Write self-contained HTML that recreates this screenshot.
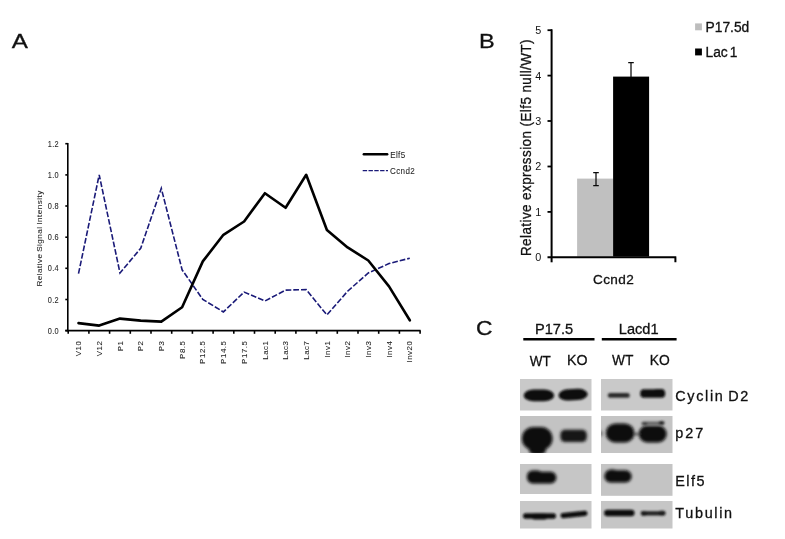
<!DOCTYPE html>
<html><head><meta charset="utf-8"><title>Figure</title>
<style>
html,body{margin:0;padding:0;background:#fff;}
body{width:785px;height:539px;overflow:hidden;}
svg{display:block;font-family:"Liberation Sans",sans-serif;}
.t{fill:#262626;font-size:7.9px;letter-spacing:0.55px;stroke:#262626;stroke-width:0.08px;}
.k{stroke:#111;stroke-width:0.3px;}
</style></head><body>
<svg width="785" height="539" viewBox="0 0 785 539">
<defs>
<filter id="b1" filterUnits="userSpaceOnUse" x="500" y="360" width="200" height="179"><feGaussianBlur stdDeviation="1.1"/></filter>
<filter id="b2" filterUnits="userSpaceOnUse" x="500" y="360" width="200" height="179"><feGaussianBlur stdDeviation="1.8"/></filter>
<filter id="b0" filterUnits="userSpaceOnUse" x="500" y="360" width="200" height="179"><feGaussianBlur stdDeviation="0.8"/></filter>
<clipPath id="c1l"><rect x="520" y="379" width="71.5" height="31.5"/></clipPath>
<clipPath id="c2l"><rect x="520" y="416" width="71.5" height="37"/></clipPath>
<clipPath id="c3l"><rect x="520" y="464" width="71.5" height="30"/></clipPath>
<clipPath id="c4l"><rect x="520" y="501" width="71.5" height="27.5"/></clipPath>
<clipPath id="c1r"><rect x="601" y="379" width="71.5" height="31.5"/></clipPath>
<clipPath id="c2r"><rect x="601" y="416" width="71.5" height="37"/></clipPath>
<clipPath id="c3r"><rect x="601" y="464" width="71.5" height="31.8"/></clipPath>
<clipPath id="c4r"><rect x="601" y="501" width="71.5" height="27.5"/></clipPath>
</defs>
<rect width="785" height="539" fill="#fff"/>

<text class="k" font-size="20.2" fill="#111" transform="translate(11.8 47.5) scale(1.2 1)">A</text>
<g stroke="#000" stroke-width="1.6" fill="none">
<path d="M67.8 143 V331.3"/>
<path d="M65.3 330.6 H420.6"/>
<path d="M65.3 330.6 H68"/>
<path d="M65.3 299.5 H68"/>
<path d="M65.3 268.3 H68"/>
<path d="M65.3 237.2 H68"/>
<path d="M65.3 206.0 H68"/>
<path d="M65.3 174.9 H68"/>
<path d="M65.3 143.7 H68"/>
<path d="M68.2 330.6 V333.8"/>
<path d="M88.9 330.6 V333.8"/>
<path d="M109.6 330.6 V333.8"/>
<path d="M130.3 330.6 V333.8"/>
<path d="M151.0 330.6 V333.8"/>
<path d="M171.7 330.6 V333.8"/>
<path d="M192.4 330.6 V333.8"/>
<path d="M213.1 330.6 V333.8"/>
<path d="M233.8 330.6 V333.8"/>
<path d="M254.5 330.6 V333.8"/>
<path d="M275.2 330.6 V333.8"/>
<path d="M295.9 330.6 V333.8"/>
<path d="M316.6 330.6 V333.8"/>
<path d="M337.3 330.6 V333.8"/>
<path d="M358.0 330.6 V333.8"/>
<path d="M378.7 330.6 V333.8"/>
<path d="M399.4 330.6 V333.8"/>
<path d="M420.1 330.6 V333.8"/>
</g>
<text class="t" style="font-size:9px;letter-spacing:0.35px" transform="translate(58.9 333.7) scale(0.82 1)" text-anchor="end">0.0</text>
<text class="t" style="font-size:9px;letter-spacing:0.35px" transform="translate(58.9 302.6) scale(0.82 1)" text-anchor="end">0.2</text>
<text class="t" style="font-size:9px;letter-spacing:0.35px" transform="translate(58.9 271.4) scale(0.82 1)" text-anchor="end">0.4</text>
<text class="t" style="font-size:9px;letter-spacing:0.35px" transform="translate(58.9 240.3) scale(0.82 1)" text-anchor="end">0.6</text>
<text class="t" style="font-size:9px;letter-spacing:0.35px" transform="translate(58.9 209.1) scale(0.82 1)" text-anchor="end">0.8</text>
<text class="t" style="font-size:9px;letter-spacing:0.35px" transform="translate(58.9 178.0) scale(0.82 1)" text-anchor="end">1.0</text>
<text class="t" style="font-size:9px;letter-spacing:0.35px" transform="translate(58.9 146.8) scale(0.82 1)" text-anchor="end">1.2</text>
<text class="t" text-anchor="end" transform="translate(81.1 340.5) rotate(-90)">V10</text>
<text class="t" text-anchor="end" transform="translate(101.8 340.5) rotate(-90)">V12</text>
<text class="t" text-anchor="end" transform="translate(122.5 340.5) rotate(-90)">P1</text>
<text class="t" text-anchor="end" transform="translate(143.2 340.5) rotate(-90)">P2</text>
<text class="t" text-anchor="end" transform="translate(163.9 340.5) rotate(-90)">P3</text>
<text class="t" text-anchor="end" transform="translate(184.7 340.5) rotate(-90)">P8.5</text>
<text class="t" text-anchor="end" transform="translate(205.3 340.5) rotate(-90)">P12.5</text>
<text class="t" text-anchor="end" transform="translate(226.0 340.5) rotate(-90)">P14.5</text>
<text class="t" text-anchor="end" transform="translate(246.7 340.5) rotate(-90)">P17.5</text>
<text class="t" text-anchor="end" transform="translate(267.5 340.5) rotate(-90)">Lac1</text>
<text class="t" text-anchor="end" transform="translate(288.2 340.5) rotate(-90)">Lac3</text>
<text class="t" text-anchor="end" transform="translate(308.9 340.5) rotate(-90)">Lac7</text>
<text class="t" text-anchor="end" transform="translate(329.6 340.5) rotate(-90)">Inv1</text>
<text class="t" text-anchor="end" transform="translate(350.2 340.5) rotate(-90)">Inv2</text>
<text class="t" text-anchor="end" transform="translate(370.9 340.5) rotate(-90)">Inv3</text>
<text class="t" text-anchor="end" transform="translate(391.6 340.5) rotate(-90)">Inv4</text>
<text class="t" text-anchor="end" transform="translate(412.4 340.5) rotate(-90)">Inv20</text>
<text class="t" style="font-size:8.1px;letter-spacing:0" textLength="95.8" lengthAdjust="spacing" word-spacing="-1" transform="translate(41.6 286.6) rotate(-90)">Relative Signal Intensity</text>
<polyline points="78.5,273.7 99.2,174.8 120.0,273.0 140.7,248.3 161.3,188.4 182.1,269.8 202.8,299.4 223.4,311.9 244.1,292.1 264.9,301.0 285.6,290.1 306.2,289.6 326.9,315.0 347.6,291.2 368.3,273.0 389.0,263.6 409.8,258.2" fill="none" stroke="#1a1a78" stroke-width="1.6" stroke-dasharray="5.7 2" stroke-linejoin="miter"/>
<polyline points="78.5,323.1 99.2,325.6 120.0,318.6 140.7,320.6 161.3,321.6 182.1,307.2 202.8,261.4 223.4,234.8 244.1,221.5 264.9,193.2 285.6,207.8 306.2,174.8 326.9,230.0 347.6,247.4 368.3,260.5 389.0,286.4 409.8,320.3" fill="none" stroke="#000" stroke-width="2.6" stroke-linejoin="round" stroke-linecap="round"/>
<path d="M363.8 154.2 H387.2" stroke="#000" stroke-width="2.4" stroke-linecap="round"/>
<text class="t" style="font-size:9.6px;letter-spacing:0.45px" transform="translate(390.2 158.1) scale(0.84 1)">Elf5</text>
<path d="M362.7 170.7 H388" stroke="#1a1a78" stroke-width="1.3" stroke-dasharray="4.4 1.4"/>
<text class="t" style="font-size:9.6px;letter-spacing:0.45px" transform="translate(390 174.3) scale(0.84 1)">Ccnd2</text>
<text class="k" font-size="20.4" fill="#111" transform="translate(479 47.8) scale(1.15 1)">B</text>
<rect x="577.1" y="178.6" width="36" height="78" fill="#c0c0c0"/>
<rect x="613.1" y="76.6" width="36" height="180" fill="#000"/>
<g stroke="#000" stroke-width="1.8" fill="none">
<path d="M551.6 29.3 V262.3" stroke-width="2"/>
<path d="M547.5 257.3 H676.3 M675.4 257.3 V262.3" stroke-width="2"/>
<path d="M547.5 211.9 H552" stroke-width="1.8"/>
<path d="M547.5 166.5 H552" stroke-width="1.8"/>
<path d="M547.5 121.0 H552" stroke-width="1.8"/>
<path d="M547.5 75.6 H552" stroke-width="1.8"/>
<path d="M547.5 30.2 H552" stroke-width="1.8"/>
</g>
<g stroke="#0a0a0a" stroke-width="1.25" fill="none">
<path d="M596 172.7 V185.6 M593.2 172.7 H598.8 M593.2 185.6 H598.8"/>
<path d="M631 62.7 V77 M628.2 62.7 H633.8"/>
</g>
<text x="541.2" y="261.2" text-anchor="end" font-size="10.8" fill="#111">0</text>
<text x="541.2" y="215.8" text-anchor="end" font-size="10.8" fill="#111">1</text>
<text x="541.2" y="170.4" text-anchor="end" font-size="10.8" fill="#111">2</text>
<text x="541.2" y="124.9" text-anchor="end" font-size="10.8" fill="#111">3</text>
<text x="541.2" y="79.5" text-anchor="end" font-size="10.8" fill="#111">4</text>
<text x="541.2" y="34.1" text-anchor="end" font-size="10.8" fill="#111">5</text>
<text class="k" x="593" y="283.6" font-size="13.6" fill="#111" textLength="40.8" lengthAdjust="spacing">Ccnd2</text>
<text class="k" font-size="14.3" fill="#111" textLength="230.3" lengthAdjust="spacing" transform="translate(531.2 256) rotate(-90) scale(0.94 1)">Relative expression (Elf5 null/WT)</text>
<rect x="695.1" y="23.4" width="6.8" height="6.9" fill="#bdbdbd"/>
<text class="k" x="705.5" y="31.7" font-size="13.8" fill="#111">P17.5d</text>
<rect x="695.1" y="48.5" width="6.8" height="6.9" fill="#000"/>
<text class="k" x="705.5" y="57.1" font-size="13.8" fill="#111" word-spacing="-1.8">Lac 1</text>
<text class="k" font-size="19.5" fill="#111" transform="translate(476 335.4) scale(1.17 1)">C</text>
<text class="k" x="535" y="334.3" font-size="14.6" fill="#111">P17.5</text>
<text class="k" x="618.8" y="334.3" font-size="14.6" fill="#111">Lacd1</text>
<path d="M523.3 339.3 H594.5 M601.8 339.3 H676.6" stroke="#000" stroke-width="2.5"/>
<g class="k" font-size="15.5" fill="#111">
<text x="529.8" y="366" textLength="21" lengthAdjust="spacingAndGlyphs">WT</text>
<text x="567" y="364.8" textLength="20.5" lengthAdjust="spacingAndGlyphs">KO</text>
<text x="612" y="364.5" textLength="21.4" lengthAdjust="spacingAndGlyphs">WT</text>
<text x="649.8" y="364.5" textLength="20" lengthAdjust="spacingAndGlyphs">KO</text>
</g>
<g class="k" font-size="14.4" fill="#111">
<text x="675.3" y="401.1" textLength="73" lengthAdjust="spacing" word-spacing="-2">Cyclin D2</text>
<text x="675.3" y="438" textLength="28" lengthAdjust="spacing">p27</text>
<text x="675.3" y="486.2" textLength="29.2" lengthAdjust="spacing">Elf5</text>
<text x="675.3" y="518" textLength="56.8" lengthAdjust="spacing">Tubulin</text>
</g>
<rect x="520" y="379" width="71.5" height="31.5" fill="#c9c9c9"/>
<rect x="520" y="416" width="71.5" height="37" fill="#c3c3c3"/>
<rect x="520" y="464" width="71.5" height="30" fill="#c6c6c6"/>
<rect x="520" y="501" width="71.5" height="27.5" fill="#c8c8c8"/>
<rect x="601" y="379" width="71.5" height="31.5" fill="#c9c9c9"/>
<rect x="601" y="416" width="71.5" height="37" fill="#c4c4c4"/>
<rect x="601" y="464" width="71.5" height="31.8" fill="#c4c4c4"/>
<rect x="601" y="501" width="71.5" height="27.5" fill="#c6c6c6"/>
<g clip-path="url(#c1l)"><g filter="url(#b1)"><rect x="523.7" y="389.5" width="30.4" height="11.8" rx="10.0" fill="#0a0a0a"/><rect x="558.5" y="389.1" width="29.2" height="11.2" rx="10.0" fill="#0a0a0a" transform="rotate(-3 573.1 394.7)"/></g></g>
<g clip-path="url(#c2l)"><g filter="url(#b2)"><rect x="521.9" y="427.0" width="30.6" height="23.2" rx="11.5" fill="#0a0a0a"/><ellipse cx="537.5" cy="450.5" rx="8.5" ry="4.5" fill="#111"/><rect x="560.4" y="429.8" width="26.4" height="12.2" rx="4.5" fill="#141414"/></g></g>
<g clip-path="url(#c3l)"><g filter="url(#b2)"><rect x="527.1" y="471.8" width="29.2" height="11.6" rx="5.5" fill="#0a0a0a"/><rect x="527.0" y="470.6" width="16.0" height="12.0" rx="5.5" fill="#0a0a0a"/></g></g>
<g clip-path="url(#c4l)"><g filter="url(#b1)"><rect x="523.0" y="513.2" width="33.0" height="5.6" rx="2.8" fill="#0a0a0a"/><rect x="531.5" y="513.6" width="16.0" height="6.0" rx="3.0" fill="#0a0a0a"/><rect x="560.5" y="511.9" width="27.0" height="5.2" rx="2.6" fill="#0a0a0a" transform="rotate(-6 574.0 514.5)"/></g></g>
<g clip-path="url(#c1r)"><g filter="url(#b1)"><rect x="607.8" y="393.1" width="22.0" height="4.6" rx="2.3" fill="#2c2c2c"/><rect x="640.2" y="389.3" width="25.0" height="8.4" rx="3.8" fill="#0a0a0a"/><rect x="654.0" y="389.0" width="10.0" height="5.2" rx="2.4" fill="#0a0a0a"/></g></g>
<g clip-path="url(#c2r)"><g filter="url(#b2)"><ellipse cx="636.0" cy="434.0" rx="4.0" ry="1.6" fill="#606060"/><ellipse cx="601.3" cy="433.5" rx="1.2" ry="3.0" fill="#555"/><rect x="605.7" y="423.4" width="28.8" height="19.2" rx="10.0" fill="#0a0a0a"/><rect x="638.7" y="425.4" width="28.0" height="17.2" rx="8.5" fill="#0a0a0a"/></g></g>
<g clip-path="url(#c2r)"><g filter="url(#b1)"><rect x="641.3" y="421.6" width="23.0" height="4.0" rx="2.0" fill="#6a6a6a"/><ellipse cx="645.0" cy="423.8" rx="2.6" ry="1.5" fill="#3a3a3a"/><ellipse cx="661.5" cy="422.8" rx="3.0" ry="1.9" fill="#262626"/></g></g>
<g clip-path="url(#c3r)"><g filter="url(#b2)"><rect x="604.4" y="470.2" width="27.2" height="12.4" rx="6.0" fill="#0a0a0a"/><rect x="605.0" y="469.4" width="14.0" height="12.4" rx="6.0" fill="#0a0a0a"/></g></g>
<g clip-path="url(#c4r)"><g filter="url(#b1)"><rect x="604.1" y="509.7" width="30.4" height="6.6" rx="3.3" fill="#0a0a0a"/><rect x="640.7" y="511.3" width="24.6" height="4.2" rx="2.1" fill="#222"/><rect x="641.0" y="511.1" width="6.0" height="4.6" rx="2.1" fill="#1a1a1a"/><rect x="658.5" y="510.8" width="7.0" height="4.8" rx="2.1" fill="#1a1a1a"/></g></g>
</svg></body></html>
